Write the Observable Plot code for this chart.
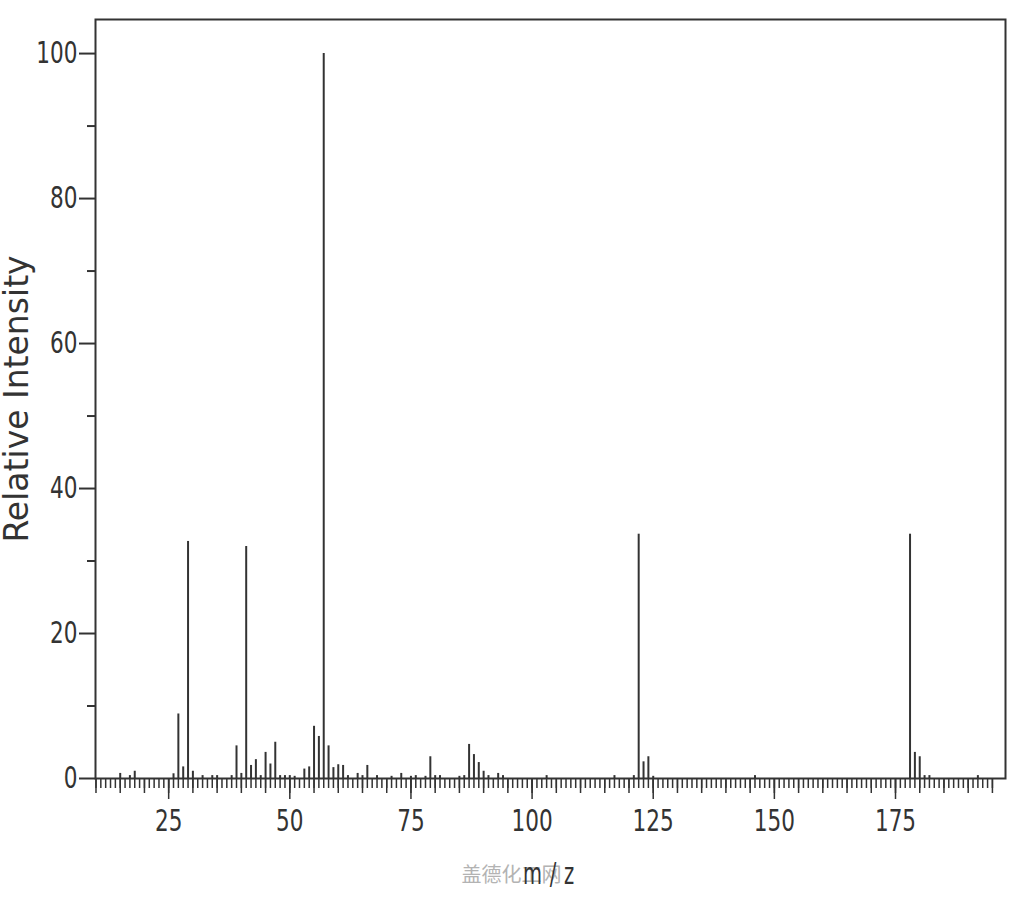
<!DOCTYPE html>
<html>
<head>
<meta charset="utf-8">
<script src="https://cdn.jsdelivr.net/npm/d3@7"></script>
<script src="https://cdn.jsdelivr.net/npm/@observablehq/plot@0.6"></script>
<style>
  html, body { margin: 0; padding: 0; background: #fff; }
  #chart svg { display: block; }
</style>
</head>
<body>
<div id="chart"></div>
<script>
// m/z values and relative intensities
const mz = [15,17,18,26,27,28,29,30,32,34,35,38,39,40,41,42,43,44,45,46,47,48,49,50,51,
  53,54,55,56,57,58,59,60,61,62,64,65,66,68,71,73,75,76,78,79,80,81,85,86,87,88,89,90,91,
  93,94,103,117,121,122,123,124,125,146,178,179,180,181,182,192];
const intensity = [0.7,0.4,1.0,0.65,8.9,1.6,32.7,1.0,0.4,0.4,0.4,0.4,4.5,0.7,32.0,1.8,2.6,0.4,3.6,2.0,5.0,0.4,0.4,0.4,0.3,
  1.3,1.6,7.2,5.8,100,4.5,1.5,1.9,1.8,0.4,0.7,0.4,1.8,0.4,0.3,0.7,0.3,0.4,0.3,3.0,0.4,0.4,0.3,0.4,4.7,3.3,2.2,1.0,0.4,
  0.7,0.4,0.4,0.4,0.4,33.7,2.3,3.0,0.3,0.4,33.7,3.6,3.0,0.4,0.4,0.4];

const xMajorTicks = [25, 50, 75, 100, 125, 150, 175];
const yMajorTicks = [0, 20, 40, 60, 80, 100];
const yMinorTicks = [10, 30, 50, 70, 90];
const xMinorTicks = d3.range(10, 196, 1);
const xMidTicks = d3.range(10, 196, 5);

const xTitle = "m/z";
const yTitle = "Relative Intensity";
const watermark = "盖德化工网";

const peaks = mz.map((m, i) => ({mz: m, i: intensity[i]}));

const ink = "#333";
const tickFont = "'DejaVu Sans', sans-serif";

const chart = Plot.plot({
  width: 1024,
  height: 900,
  marginLeft: 95,
  marginRight: 19,
  marginTop: 19,
  marginBottom: 122,
  x: {domain: [9.9, 197.7]},
  y: {domain: [0, 104.7]},
  style: {background: "#fff", color: ink},
  marks: [
    Plot.text([watermark], {frameAnchor: "bottom", dx: -39, dy: 97, lineAnchor: "middle",
      fontSize: 20, fontFamily: "'Noto Sans CJK SC', sans-serif", fill: "#b3b3b3"}),
    Plot.ruleX(peaks, {x: "mz", y1: 0, y2: "i", stroke: ink, strokeWidth: 2}),
    Plot.axisX({ticks: xMinorTicks, tickSize: 10, tickFormat: () => "", label: null, stroke: ink, strokeWidth: 1.5}),
    Plot.axisX({ticks: xMidTicks, tickSize: 15, tickFormat: () => "", label: null, stroke: ink, strokeWidth: 1.5}),
    Plot.axisX({ticks: xMajorTicks, tickSize: 21, tickPadding: 10, label: null,
      fontSize: 30, fontFamily: tickFont, fill: ink, stroke: ink, strokeWidth: 1.5}),
    Plot.axisY({ticks: yMinorTicks, tickSize: 8, tickFormat: () => "", label: null, stroke: ink, strokeWidth: 2}),
    Plot.axisY({ticks: yMajorTicks, tickSize: 16, tickPadding: 2, label: null,
      fontSize: 30, fontFamily: tickFont, fill: ink, stroke: ink, strokeWidth: 2}),
    Plot.frame({stroke: ink, strokeWidth: 2}),
    Plot.text([yTitle], {frameAnchor: "left", dx: -78, rotate: -90, textAnchor: "middle", lineAnchor: "middle",
      fontSize: 33, fontFamily: "'DejaVu Sans', sans-serif", fill: ink}),
    Plot.text([xTitle], {frameAnchor: "bottom", dx: 2, dy: 105, lineAnchor: "bottom", textAnchor: "middle",
      fontSize: 30, fontFamily: tickFont, fill: ink})
  ]
});
document.getElementById("chart").appendChild(chart);

// horizontally condensed lettering, as in the reference
function squeeze(el, sx) {
  const t = el.getAttribute("transform") || "";
  el.setAttribute("transform", t + ` scale(${sx},1)`);
}
chart.querySelectorAll('g[aria-label="x-axis tick label"] text, g[aria-label="y-axis tick label"] text')
  .forEach(t => squeeze(t, 0.72));
chart.querySelectorAll("text").forEach(t => {
  if (t.textContent === xTitle) { t.style.letterSpacing = "12px"; squeeze(t, 0.65); }
});
</script>
</body>
</html>
